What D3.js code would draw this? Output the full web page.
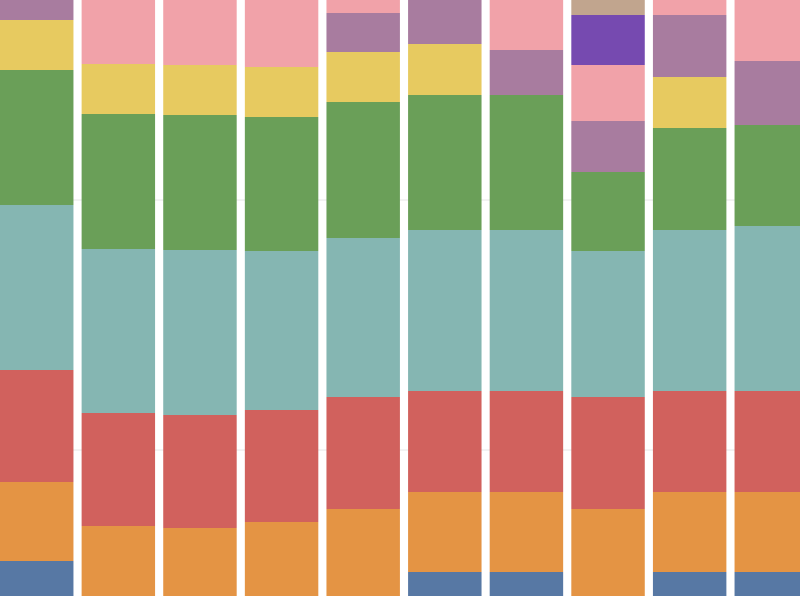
<!DOCTYPE html>
<html>
<head>
<meta charset="utf-8">
<script src="https://cdn.jsdelivr.net/npm/d3@7"></script>
<style>
  body { margin: 0; background: #fff; overflow: hidden; }
</style>
</head>
<body>
<div id="chart"></div>
<script>
var svgWidth = 800;
var svgHeight = 596;

// categories (columns) and stacked series, bottom to top
var columns = ["c1", "c2", "c3", "c4", "c5", "c6", "c7", "c8", "c9", "c10"];
var seriesNames = ["blue", "orange", "red", "teal", "green", "yellow", "mauve", "pink", "violet", "tan"];
var seriesColors = ["#5778a4", "#e49444", "#d1615d", "#85b6b2", "#6a9f58", "#e7ca60", "#a87c9f", "#f1a2a9", "#764ab0", "#c1a58e"];

var blue   = [35, 0, 0, 0, 0, 24, 24, 0, 24, 24];
var orange = [79, 70, 68, 74, 87, 80, 80, 87, 80, 80];
var red    = [112, 113, 113, 112, 112, 101, 101, 112, 101, 101];
var teal   = [165, 164, 165, 159, 159, 161, 161, 146, 161, 165];
var green  = [135, 135, 135, 134, 136, 135, 135, 79, 102, 101];
var yellow = [50, 50, 50, 50, 50, 51, 0, 0, 51, 0];
var mauve  = [60, 0, 0, 0, 39, 60, 45, 51, 62, 64];
var pink   = [0, 80, 80, 80, 40, 0, 60, 56, 40, 80];
var violet = [0, 0, 0, 0, 0, 0, 0, 50, 0, 0];
var tan    = [0, 0, 0, 0, 0, 0, 0, 40, 0, 0];

var gridValues = [146, 396];

var seriesValues = [blue, orange, red, teal, green, yellow, mauve, pink, violet, tan];
var rows = columns.map(function(c, i) {
  var row = { column: c };
  seriesNames.forEach(function(s, j) { row[s] = seriesValues[j][i]; });
  return row;
});

var svg = d3.select("#chart").append("svg")
  .attr("width", svgWidth)
  .attr("height", svgHeight);

var xScale = d3.scaleBand()
  .domain(columns)
  .range([0, 808])
  .paddingInner(0.1)
  .paddingOuter(0);

var yScale = d3.scaleLinear()
  .domain([0, svgHeight])
  .range([svgHeight, 0]);

// faint gridlines behind bars
svg.selectAll("line.grid")
  .data(gridValues)
  .enter()
  .append("line")
  .attr("class", "grid")
  .attr("x1", 0)
  .attr("x2", svgWidth)
  .attr("y1", d => yScale(d))
  .attr("y2", d => yScale(d))
  .attr("stroke", "#e6e6e6")
  .attr("stroke-width", 1);

var stacked = d3.stack().keys(seriesNames)(rows);

svg.selectAll("g.layer")
  .data(stacked)
  .enter()
  .append("g")
  .attr("class", "layer")
  .attr("fill", (d, i) => seriesColors[i])
  .selectAll("rect")
  .data(d => d)
  .enter()
  .append("rect")
  .attr("x", d => xScale(d.data.column))
  .attr("width", xScale.bandwidth())
  .attr("y", d => yScale(d[1]))
  .attr("height", d => yScale(d[0]) - yScale(d[1]));
</script>
</body>
</html>
